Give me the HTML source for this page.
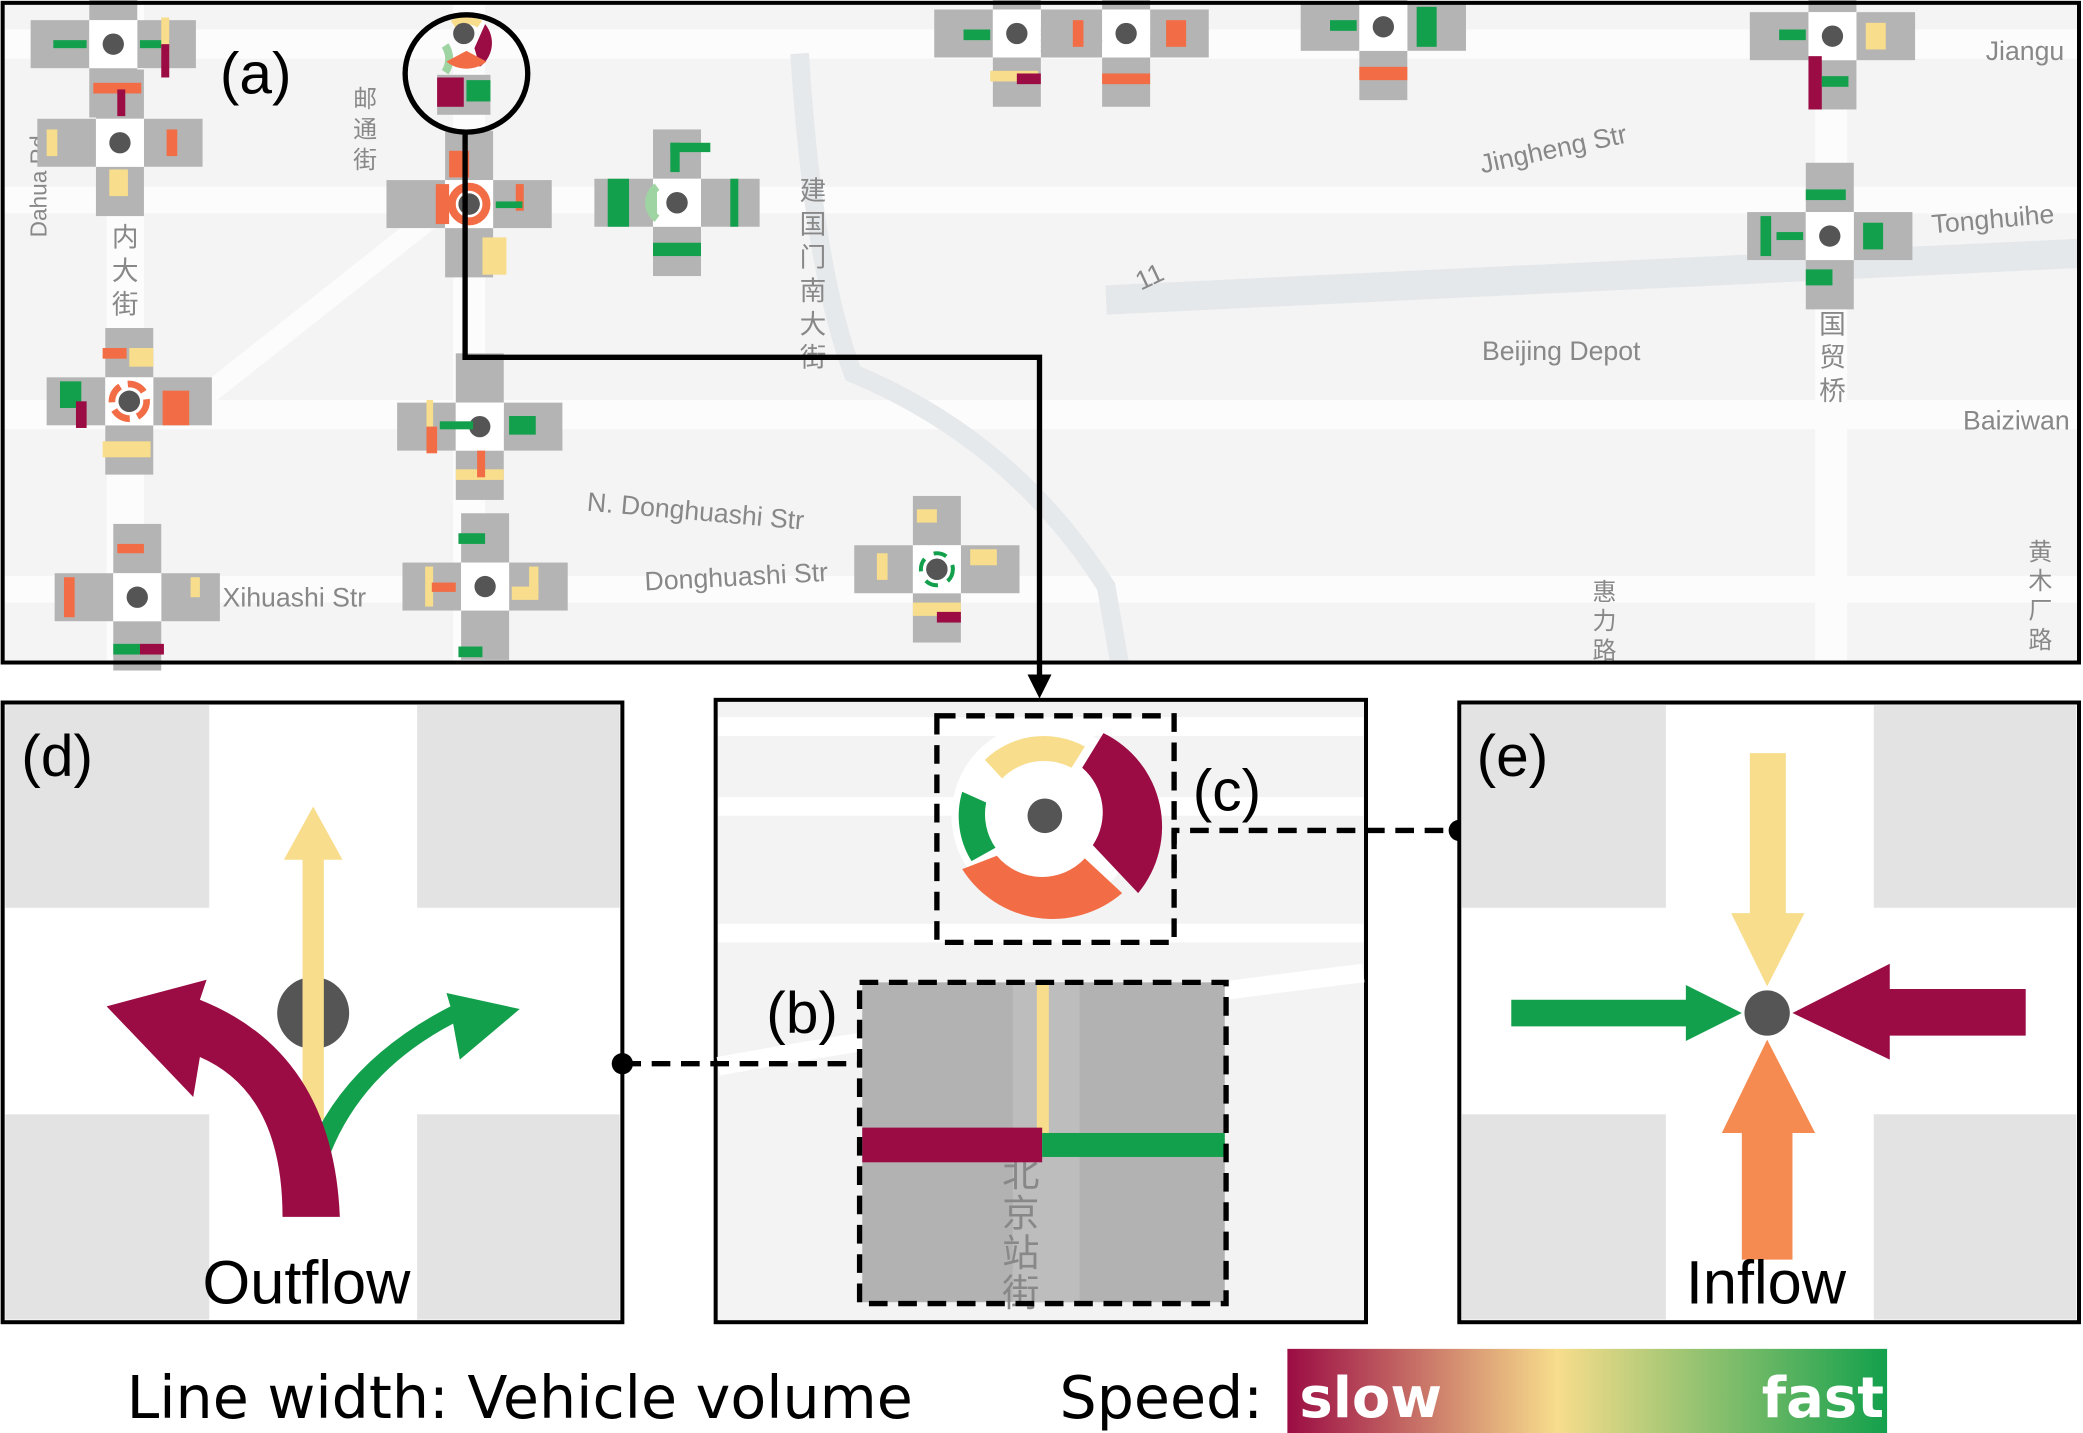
<!DOCTYPE html>
<html><head><meta charset="utf-8"><style>html,body{margin:0;padding:0;background:#fff}svg{display:block}</style></head><body>
<svg xmlns="http://www.w3.org/2000/svg" xmlns:xlink="http://www.w3.org/1999/xlink" width="2083" height="1433" viewBox="0 0 1563 1075">
<defs>
<linearGradient id="sp" x1="0" x2="1"><stop offset="0" stop-color="#9b0c44"/><stop offset="0.45" stop-color="#f7dd8c"/><stop offset="1" stop-color="#13a04c"/></linearGradient>
<g id="cr">
<rect x="-18" y="-55" width="36" height="37" fill="#b4b4b4"/>
<rect x="-18" y="18" width="36" height="37" fill="#b4b4b4"/>
<rect x="-62" y="-18" width="44" height="36" fill="#b4b4b4"/>
<rect x="18" y="-18" width="44" height="36" fill="#b4b4b4"/>
<rect x="-18" y="-18" width="36" height="36" fill="#fff"/>
<circle r="8" fill="#555"/>
</g>
</defs>
<rect width="1563" height="1075" fill="#fff"/>
<!-- top map -->
<rect x="2" y="2" width="1558" height="495" fill="#f4f4f4"/>
<g fill="#fcfcfc">
<rect x="2" y="22" width="1558" height="22"/>
<rect x="2" y="140" width="1558" height="20"/>
<rect x="2" y="300" width="1558" height="22"/>
<rect x="2" y="432" width="1558" height="20"/>
<rect x="80" y="2" width="28" height="495"/>
<rect x="340" y="2" width="24" height="495"/>
<rect x="1362" y="2" width="24" height="495"/>
</g>
<path d="M830,225 L1560,190" stroke="#e5e8ea" stroke-width="22"/>
<path d="M600,40 Q610,200 640,280 Q760,330 830,440 L840,497" stroke="#e6e9eb" stroke-width="14" fill="none"/>
<path d="M150,300 L340,150" stroke="#fcfcfc" stroke-width="16"/>
<g font-family="Liberation Sans, 'Noto Sans CJK SC', sans-serif" fill="#888" font-size="20">
<text x="1112" y="130" transform="rotate(-12 1112 130)">Jingheng Str</text>
<text x="1450" y="175" transform="rotate(-5 1450 175)">Tonghuihe</text>
<text x="1112" y="270">Beijing Depot</text>
<text x="1473" y="322">Baiziwan</text>
<text x="440" y="383" transform="rotate(5 440 383)">N. Donghuashi Str</text>
<text x="484" y="443" transform="rotate(-3 484 443)">Donghuashi Str</text>
<text x="167" y="455">Xihuashi Str</text>
<text x="1490" y="45">Jiangu</text>
<text x="35" y="178" transform="rotate(-90 35 178)" font-size="17">Dahua Rd</text>
<text x="856" y="218" transform="rotate(-25 856 218)">11</text>
<text x="265" y="80" font-size="18">邮</text><text x="265" y="103" font-size="18">通</text><text x="265" y="126" font-size="18">街</text>
<text x="600" y="150" font-size="20">建</text><text x="600" y="175" font-size="20">国</text><text x="600" y="200" font-size="20">门</text><text x="600" y="225" font-size="20">南</text><text x="600" y="250" font-size="20">大</text><text x="600" y="275" font-size="20">街</text>
<text x="84" y="185" font-size="20">内</text><text x="84" y="210" font-size="20">大</text><text x="84" y="235" font-size="20">街</text>
<text x="1365" y="250" font-size="20">国</text><text x="1365" y="275" font-size="20">贸</text><text x="1365" y="300" font-size="20">桥</text>
<text x="1195" y="450" font-size="18">惠</text><text x="1195" y="472" font-size="18">力</text><text x="1195" y="494" font-size="18">路</text>
<text x="1522" y="420" font-size="18">黄</text><text x="1522" y="442" font-size="18">木</text><text x="1522" y="464" font-size="18">厂</text><text x="1522" y="486" font-size="18">路</text>
<text x="750" y="38" font-size="20">建国门外大街</text>
</g>
<!-- glyphs -->
<g transform="translate(85,33)"><use xlink:href="#cr"/><rect x="-45" y="-3" width="25" height="6" fill="#13a04c"/><rect x="20" y="-3" width="22" height="6" fill="#13a04c"/><rect x="36" y="-20" width="6" height="30" fill="#f7dd8c"/><rect x="36" y="0" width="6" height="25" fill="#9b0c44"/></g>
<g transform="translate(90,107)"><use xlink:href="#cr"/><rect x="-55" y="-10" width="8" height="20" fill="#f7dd8c"/><rect x="35" y="-10" width="8" height="20" fill="#f26d45"/><rect x="-8" y="20" width="14" height="20" fill="#f7dd8c"/><rect x="-20" y="-45" width="36" height="8" fill="#f26d45"/><rect x="-2" y="-40" width="6" height="20" fill="#9b0c44"/></g>
<g transform="translate(352,153)"><use xlink:href="#cr"/><rect x="-25" y="-15" width="10" height="30" fill="#f26d45"/><rect x="-15" y="-40" width="15" height="20" fill="#f26d45"/><rect x="10" y="25" width="18" height="28" fill="#f7dd8c"/><rect x="35" y="-15" width="6" height="20" fill="#f26d45"/><rect x="20" y="-2" width="20" height="5" fill="#13a04c"/><circle r="13" fill="none" stroke="#f26d45" stroke-width="6"/><circle r="8" fill="#555"/></g>
<g transform="translate(508,152)"><use xlink:href="#cr"/><rect x="-52" y="-18" width="16" height="36" fill="#13a04c"/><rect x="40" y="-18" width="6" height="36" fill="#13a04c"/><rect x="-5" y="-45" width="30" height="7" fill="#13a04c"/><rect x="-5" y="-45" width="7" height="22" fill="#13a04c"/><rect x="-18" y="30" width="36" height="10" fill="#13a04c"/><path d="M-15,-12 A15,15 0 0 0 -15,12" fill="#9ed3a2" stroke="#9ed3a2" stroke-width="6"/><circle r="8" fill="#555"/></g>
<g transform="translate(97,301)"><use xlink:href="#cr"/><rect x="-52" y="-15" width="16" height="20" fill="#13a04c"/><rect x="-40" y="0" width="8" height="20" fill="#9b0c44"/><rect x="25" y="-8" width="20" height="26" fill="#f26d45"/><rect x="-20" y="-40" width="18" height="8" fill="#f26d45"/><rect x="0" y="-40" width="18" height="14" fill="#f7dd8c"/><rect x="-20" y="30" width="36" height="12" fill="#f7dd8c"/><circle r="13" fill="none" stroke="#f26d45" stroke-width="5" stroke-dasharray="14 6"/><circle r="8" fill="#555"/></g>
<g transform="translate(360,320)"><use xlink:href="#cr"/><rect x="-40" y="-20" width="5" height="20" fill="#f7dd8c"/><rect x="-30" y="-4" width="25" height="6" fill="#13a04c"/><rect x="-40" y="0" width="8" height="20" fill="#f26d45"/><rect x="22" y="-8" width="20" height="14" fill="#13a04c"/><rect x="-18" y="32" width="36" height="8" fill="#f7dd8c"/><rect x="-2" y="18" width="6" height="20" fill="#f26d45"/></g>
<g transform="translate(103,448)"><use xlink:href="#cr"/><rect x="-55" y="-15" width="8" height="30" fill="#f26d45"/><rect x="40" y="-15" width="7" height="15" fill="#f7dd8c"/><rect x="-15" y="-40" width="20" height="7" fill="#f26d45"/><rect x="-18" y="35" width="20" height="8" fill="#13a04c"/><rect x="2" y="35" width="18" height="8" fill="#9b0c44"/></g>
<g transform="translate(364,440)"><use xlink:href="#cr"/><rect x="-20" y="-40" width="20" height="8" fill="#13a04c"/><rect x="-45" y="-15" width="6" height="30" fill="#f7dd8c"/><rect x="-40" y="-3" width="18" height="7" fill="#f26d45"/><rect x="20" y="0" width="20" height="10" fill="#f7dd8c"/><rect x="33" y="-15" width="7" height="20" fill="#f7dd8c"/><rect x="-20" y="45" width="18" height="8" fill="#13a04c"/></g>
<g transform="translate(703,427)"><use xlink:href="#cr"/><rect x="-15" y="-45" width="15" height="10" fill="#f7dd8c"/><rect x="-45" y="-12" width="8" height="20" fill="#f7dd8c"/><rect x="25" y="-15" width="20" height="12" fill="#f7dd8c"/><rect x="-18" y="25" width="36" height="10" fill="#f7dd8c"/><rect x="0" y="32" width="18" height="8" fill="#9b0c44"/><circle r="12" fill="none" stroke="#13a04c" stroke-width="3" stroke-dasharray="10 8"/><circle r="8" fill="#555"/></g>
<g transform="translate(763,25)"><use xlink:href="#cr"/><rect x="-40" y="-3" width="20" height="8" fill="#13a04c"/><rect x="-20" y="28" width="36" height="8" fill="#f7dd8c"/><rect x="0" y="30" width="18" height="8" fill="#9b0c44"/></g>
<g transform="translate(845,25)"><use xlink:href="#cr"/><rect x="-40" y="-10" width="8" height="20" fill="#f26d45"/><rect x="30" y="-10" width="15" height="20" fill="#f26d45"/><rect x="-18" y="30" width="36" height="8" fill="#f26d45"/></g>
<g transform="translate(1038,20)"><use xlink:href="#cr"/><rect x="-40" y="-5" width="20" height="8" fill="#13a04c"/><rect x="25" y="-15" width="15" height="30" fill="#13a04c"/><rect x="-18" y="30" width="36" height="10" fill="#f26d45"/></g>
<g transform="translate(1375,27)"><use xlink:href="#cr"/><rect x="-40" y="-5" width="20" height="8" fill="#13a04c"/><rect x="25" y="-10" width="15" height="20" fill="#f7dd8c"/><rect x="-18" y="15" width="10" height="40" fill="#9b0c44"/><rect x="-8" y="30" width="20" height="8" fill="#13a04c"/></g>
<g transform="translate(1373,177)"><use xlink:href="#cr"/><rect x="-52" y="-15" width="8" height="30" fill="#13a04c"/><rect x="-40" y="-3" width="20" height="6" fill="#13a04c"/><rect x="25" y="-10" width="15" height="20" fill="#13a04c"/><rect x="-18" y="25" width="20" height="12" fill="#13a04c"/><rect x="-18" y="-35" width="30" height="8" fill="#13a04c"/></g>
<!-- circled glyph -->
<g transform="translate(350,58)">
<rect x="-22" y="-2" width="40" height="30" fill="#b4b4b4"/>
<rect x="-22" y="0" width="20" height="22" fill="#9b0c44"/><rect x="0" y="2" width="18" height="16" fill="#13a04c"/>
<path d="M-16,-24 A18,18 0 0 1 -16,-4" stroke="#9ed3a2" stroke-width="6" fill="none"/>
<path d="M-10,-40 A18,18 0 0 1 10,-40" stroke="#f7dd8c" stroke-width="6" fill="none"/>
<path d="M14,-40 A22,22 0 0 1 10,-8 L6,-22 Z" fill="#9b0c44"/>
<path d="M-15,-12 A20,16 0 0 0 15,-12 L0,-20 Z" fill="#f26d45"/>
<circle cx="-2" cy="-33" r="8" fill="#555"/>
</g>
<ellipse cx="350" cy="55" rx="46" ry="44" fill="none" stroke="#000" stroke-width="4"/>
<text x="165" y="70" font-family="Liberation Sans, sans-serif" font-size="44" fill="#000">(a)</text>
<rect x="2" y="2" width="1558" height="495" fill="none" stroke="#000" stroke-width="3"/>
<path d="M349,100 V268 H780 V510" fill="none" stroke="#000" stroke-width="4"/>
<path d="M771,506 L789,506 L780,524 Z" fill="#000"/>
<!-- panel d -->
<rect x="2" y="527" width="465" height="465" fill="#fff" stroke="#000" stroke-width="3"/>
<g fill="#e3e3e3"><rect x="4" y="529" width="153" height="152"/><rect x="313" y="529" width="152" height="152"/><rect x="4" y="836" width="153" height="154"/><rect x="313" y="836" width="152" height="154"/></g>
<circle cx="235" cy="760" r="27" fill="#555"/>
<path d="M227,840 V645 H213 L235,605 L257,645 H243 V840 Z" fill="#f7dd8c"/>
<path d="M240,890 Q260,810 340,768 L345,795 L390,757 L335,745 L338,755 Q250,800 225,880 Z" fill="#13a04c"/>
<path d="M212,913 L255,913 Q250,790 150,750 L155,735 L80,755 L145,823 L150,793 Q212,820 212,913 Z" fill="#9b0c44"/>
<text x="152" y="978" font-family="Liberation Sans, sans-serif" font-size="46" fill="#000">Outflow</text>
<text x="16" y="582" font-family="Liberation Sans, sans-serif" font-size="44" fill="#000">(d)</text>
<!-- panel center -->
<rect x="537" y="525" width="488" height="467" fill="#f3f3f3" stroke="#000" stroke-width="3"/>
<path d="M539,545 H1023 M539,605 H1023 M539,700 H1023 M539,800 Q700,770 1023,730" stroke="#fff" stroke-width="14" fill="none"/>
<rect x="647" y="737" width="272" height="240" fill="#b2b2b2"/>
<rect x="760" y="737" width="50" height="240" fill="#bdbdbd"/>
<text x="752" y="890" font-family="'Noto Sans CJK SC', sans-serif" font-size="28" fill="#888">北</text><text x="752" y="920" font-family="'Noto Sans CJK SC', sans-serif" font-size="28" fill="#888">京</text><text x="752" y="950" font-family="'Noto Sans CJK SC', sans-serif" font-size="28" fill="#888">站</text><text x="752" y="980" font-family="'Noto Sans CJK SC', sans-serif" font-size="28" fill="#888">街</text>
<rect x="778" y="737" width="9" height="115" fill="#f7dd8c"/>
<rect x="647" y="846" width="135" height="26" fill="#9b0c44"/>
<rect x="782" y="850" width="137" height="18" fill="#13a04c"/>
<rect x="645" y="737" width="275" height="241" fill="none" stroke="#000" stroke-width="4" stroke-dasharray="14 8"/>
<text x="575" y="775" font-family="Liberation Sans, sans-serif" font-size="44" fill="#000">(b)</text>
<rect x="703" y="537" width="178" height="170" fill="none" stroke="#000" stroke-width="4" stroke-dasharray="14 8"/>
<g transform="translate(784,612)">
<circle r="70" fill="#fff"/>
<path d="M-62,-18 A64,64 0 0 0 -55,34 L-37,24 A44,44 0 0 1 -44,-10 Z" fill="#13a04c"/>
<path d="M-45,-42 A64,64 0 0 1 30,-52 L20,-36 A44,44 0 0 0 -32,-28 Z" fill="#f7dd8c"/>
<path d="M44,-62 A78,78 0 0 1 70,58 L36,22 A44,44 0 0 0 28,-36 Z" fill="#9b0c44"/>
<path d="M-62,40 A80,80 0 0 0 58,58 L30,32 A44,44 0 0 1 -36,30 Z" fill="#f26d45"/>
<circle r="13" fill="#555"/>
</g>
<text x="895" y="608" font-family="Liberation Sans, sans-serif" font-size="44" fill="#000">(c)</text>
<path d="M881,655 V623 H1095" fill="none" stroke="#000" stroke-width="4" stroke-dasharray="14 8"/>
<circle cx="1095" cy="623" r="8" fill="#000"/>
<path d="M467,798 H645" fill="none" stroke="#000" stroke-width="4" stroke-dasharray="14 8"/>
<circle cx="467" cy="798" r="8" fill="#000"/>
<!-- panel e -->
<rect x="1095" y="527" width="465" height="465" fill="#fff" stroke="#000" stroke-width="3"/>
<g fill="#e3e3e3"><rect x="1097" y="529" width="153" height="152"/><rect x="1406" y="529" width="152" height="152"/><rect x="1097" y="836" width="153" height="154"/><rect x="1406" y="836" width="152" height="154"/></g>
<path d="M1313,565 H1340 V685 H1354 L1326,740 L1299,685 H1313 Z" fill="#f7dd8c"/>
<path d="M1134,750 V770 H1265 V781 L1307,760 L1265,739 V750 Z" fill="#13a04c"/>
<path d="M1520,742 V777 H1418 V795 L1345,760 L1418,723 V742 Z" fill="#9b0c44"/>
<path d="M1307,945 V850 H1292 L1326,780 L1362,850 H1345 V945 Z" fill="#f58b50"/>
<circle cx="1326" cy="760" r="17" fill="#555"/>
<text x="1265" y="978" font-family="Liberation Sans, sans-serif" font-size="46" fill="#000">Inflow</text>
<text x="1108" y="582" font-family="Liberation Sans, sans-serif" font-size="44" fill="#000">(e)</text>
<!-- legend -->
<text x="95" y="1064" font-family="'DejaVu Sans', sans-serif" font-size="44" fill="#000">Line width: Vehicle volume</text>
<text x="795" y="1064" font-family="'DejaVu Sans', sans-serif" font-size="44" fill="#000">Speed:</text>
<rect x="966" y="1012" width="450" height="66" fill="url(#sp)"/>
<text x="975" y="1063" font-family="'DejaVu Sans', sans-serif" font-weight="bold" font-size="42" fill="#fff">slow</text>
<text x="1322" y="1063" font-family="'DejaVu Sans', sans-serif" font-weight="bold" font-size="42" fill="#fff">fast</text>
</svg>
</body></html>
